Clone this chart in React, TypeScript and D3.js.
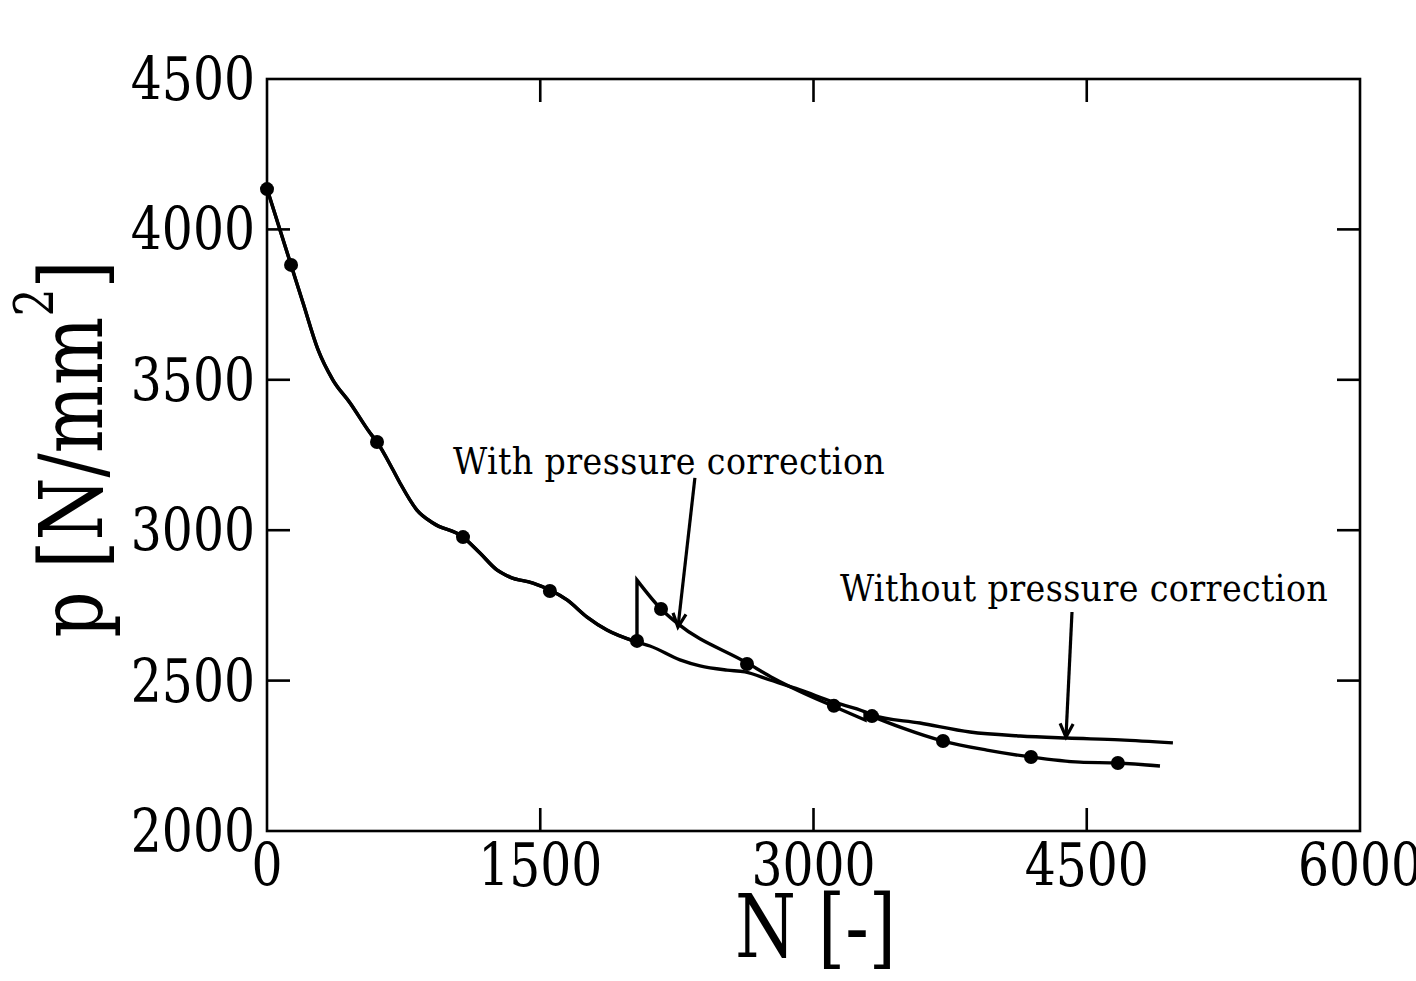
import { useEffect, useRef } from 'react'
import * as d3 from 'd3'

const W = 1416
const H = 981
const MARGIN = { top: 79, right: 56, bottom: 150, left: 267 }
const FONT = "'DejaVu Serif Condensed', 'DejaVu Serif', serif"

const X_DOMAIN: [number, number] = [0, 6000]
const Y_DOMAIN: [number, number] = [2000, 4500]
const X_TICKS = [0, 1500, 3000, 4500, 6000]
const Y_TICKS = [2000, 2500, 3000, 3500, 4000, 4500]

// p [N/mm2] against load cycles N, with the correction jumps at ~2030 and ~3280
const WITH_CORRECTION: [number, number][] = [
  [0, 4135], [132, 3882], [198, 3755], [280, 3600], [362, 3499], [456, 3423], [566, 3323],
  [604, 3293], [692, 3200], [730, 3157], [823, 3067], [911, 3024], [1076, 2977], [1169, 2924],
  [1262, 2868], [1334, 2844], [1460, 2824], [1553, 2801], [1647, 2768], [1757, 2711],
  [1866, 2668], [2031, 2628],
  [2031, 2834], [2163, 2738], [2251, 2691], [2635, 2559], [2780, 2508], [2926, 2464],
  [3112, 2414], [3283, 2369],
  [3283, 2392], [3321, 2382], [3491, 2342], [3711, 2299], [3952, 2269], [4194, 2246],
  [4463, 2229], [4671, 2226], [4902, 2216],
]

const WITHOUT_CORRECTION: [number, number][] = [
  [0, 4135], [132, 3882], [198, 3755], [280, 3600], [362, 3499], [456, 3423], [566, 3323],
  [604, 3293], [692, 3200], [730, 3157], [823, 3067], [911, 3024], [1076, 2977], [1169, 2924],
  [1262, 2868], [1334, 2844], [1460, 2824], [1553, 2801], [1647, 2768], [1757, 2711],
  [1866, 2668], [2031, 2628],
  [2102, 2615], [2267, 2569], [2377, 2549], [2525, 2535], [2624, 2529], [2761, 2502],
  [2926, 2469], [3107, 2429], [3283, 2396], [3321, 2385], [3585, 2359], [3859, 2329],
  [4134, 2316], [4392, 2309], [4682, 2303], [4973, 2293],
]

const MARKERS: [number, number][] = [
  [0, 4134], [132, 3882], [604, 3293], [1076, 2977], [1553, 2798], [2031, 2632],
  [2163, 2738], [2635, 2555], [3112, 2416], [3321, 2382], [3711, 2299], [4194, 2246],
  [4671, 2226],
]

// text position (baseline start), arrow tail and arrow tip, in data units
const ANNOTATIONS = [
  { text: 'With pressure correction', at: [1021, 3187], from: [2349, 3174], to: [2256, 2678] },
  { text: 'Without pressure correction', at: [3145, 2765], from: [4419, 2728], to: [4386, 2312] },
]

// split a series wherever N stops increasing, so each piece can be smoothed
function pieces(s: [number, number][]) {
  const out: [number, number][][] = [[s[0]]]
  for (let i = 1; i < s.length; i++) {
    if (s[i][0] <= s[i - 1][0]) out.push([])
    out[out.length - 1].push(s[i])
  }
  return out
}

export default function App() {
  const svgRef = useRef<SVGSVGElement>(null)

  useEffect(() => {
    const iw = W - MARGIN.left - MARGIN.right
    const ih = H - MARGIN.top - MARGIN.bottom
    const x = d3.scaleLinear().domain(X_DOMAIN).range([MARGIN.left, MARGIN.left + iw])
    const y = d3.scaleLinear().domain(Y_DOMAIN).range([MARGIN.top + ih, MARGIN.top])

    const svg = d3.select(svgRef.current)
    svg.selectAll('*').remove()

    const label = (tx: number, ty: number, size: number, sx: number, anchor: string, txt: string) =>
      svg.append('g').attr('transform', `translate(${tx},${ty}) scale(${sx},1)`)
        .append('text').attr('text-anchor', anchor).attr('font-size', size)
        .attr('font-family', FONT).attr('font-stretch', 'condensed').text(txt)

    // frame
    svg.append('rect')
      .attr('x', MARGIN.left).attr('y', MARGIN.top).attr('width', iw).attr('height', ih)
      .attr('fill', 'none').attr('stroke', '#000').attr('stroke-width', 2.6)

    const tickLen = 23
    // inward ticks on all four sides
    X_TICKS.slice(1, -1).forEach(t => {
      svg.append('line').attr('x1', x(t)).attr('x2', x(t))
        .attr('y1', MARGIN.top + ih).attr('y2', MARGIN.top + ih - tickLen)
        .attr('stroke', '#000').attr('stroke-width', 2.6)
      svg.append('line').attr('x1', x(t)).attr('x2', x(t))
        .attr('y1', MARGIN.top).attr('y2', MARGIN.top + tickLen)
        .attr('stroke', '#000').attr('stroke-width', 2.6)
    })
    Y_TICKS.slice(1, -1).forEach(t => {
      svg.append('line').attr('x1', MARGIN.left).attr('x2', MARGIN.left + tickLen)
        .attr('y1', y(t)).attr('y2', y(t))
        .attr('stroke', '#000').attr('stroke-width', 2.6)
      svg.append('line').attr('x1', MARGIN.left + iw).attr('x2', MARGIN.left + iw - tickLen)
        .attr('y1', y(t)).attr('y2', y(t))
        .attr('stroke', '#000').attr('stroke-width', 2.6)
    })

    // tick labels
    X_TICKS.forEach(t => label(x(t), MARGIN.top + ih + 55, 59, 0.92, 'middle', String(t)))
    Y_TICKS.forEach(t => label(MARGIN.left - 12, y(t) + 21, 59, 0.92, 'end', String(t)))

    // axis titles
    label(MARGIN.left + iw / 2 + 2, 957, 88, 0.88, 'middle', 'N [-]')

    const yTitle = svg.append('g')
      .attr('transform', `translate(102,${MARGIN.top + ih / 2 - 6}) rotate(-90) scale(0.91,1)`)
      .append('text').attr('text-anchor', 'middle').attr('font-size', 88)
      .attr('font-family', FONT).attr('font-stretch', 'condensed')
    yTitle.append('tspan').text('p [N/mm')
    yTitle.append('tspan').attr('font-size', 54).attr('dy', -49).text('2')
    yTitle.append('tspan').attr('dy', 49).text(']')

    // curves: smooth pieces joined by straight vertical jumps
    const smooth = d3.line<[number, number]>().x(d => x(d[0])).y(d => y(d[1])).curve(d3.curveMonotoneX)
    ;[WITHOUT_CORRECTION, WITH_CORRECTION].forEach(s => {
      const d = pieces(s).map((p, i) => {
        const seg = smooth(p) || ''
        return i === 0 ? seg : 'L' + seg.slice(1)
      }).join('')
      svg.append('path').attr('d', d).attr('fill', 'none')
        .attr('stroke', '#000').attr('stroke-width', 3.4).attr('stroke-linejoin', 'miter')
    })

    svg.selectAll('circle.m').data(MARKERS).enter().append('circle')
      .attr('class', 'm').attr('cx', d => x(d[0])).attr('cy', d => y(d[1]))
      .attr('r', 7).attr('fill', '#000')

    // annotations with open arrowheads
    ANNOTATIONS.forEach(a => {
      svg.append('text').attr('x', x(a.at[0])).attr('y', y(a.at[1]))
        .attr('font-size', 37).attr('font-family', FONT).attr('font-stretch', 'condensed')
        .attr('letter-spacing', 0.4).text(a.text)
      const x1 = x(a.from[0]), y1 = y(a.from[1]), x2 = x(a.to[0]), y2 = y(a.to[1])
      svg.append('line').attr('x1', x1).attr('y1', y1).attr('x2', x2).attr('y2', y2)
        .attr('stroke', '#000').attr('stroke-width', 3.2)
      const ang = Math.atan2(y2 - y1, x2 - x1)
      const hl = 15, spread = 0.45
      const pts = [
        [x2 - hl * Math.cos(ang - spread), y2 - hl * Math.sin(ang - spread)],
        [x2, y2],
        [x2 - hl * Math.cos(ang + spread), y2 - hl * Math.sin(ang + spread)],
      ]
      svg.append('polyline').attr('points', pts.map(p => p.join(',')).join(' '))
        .attr('fill', 'none').attr('stroke', '#000').attr('stroke-width', 3.2)
    })
  }, [])

  return (
    <div style={{ position: 'fixed', left: 0, top: 0, width: W, height: H, background: '#fff' }}>
      <svg ref={svgRef} width={W} height={H} />
    </div>
  )
}
